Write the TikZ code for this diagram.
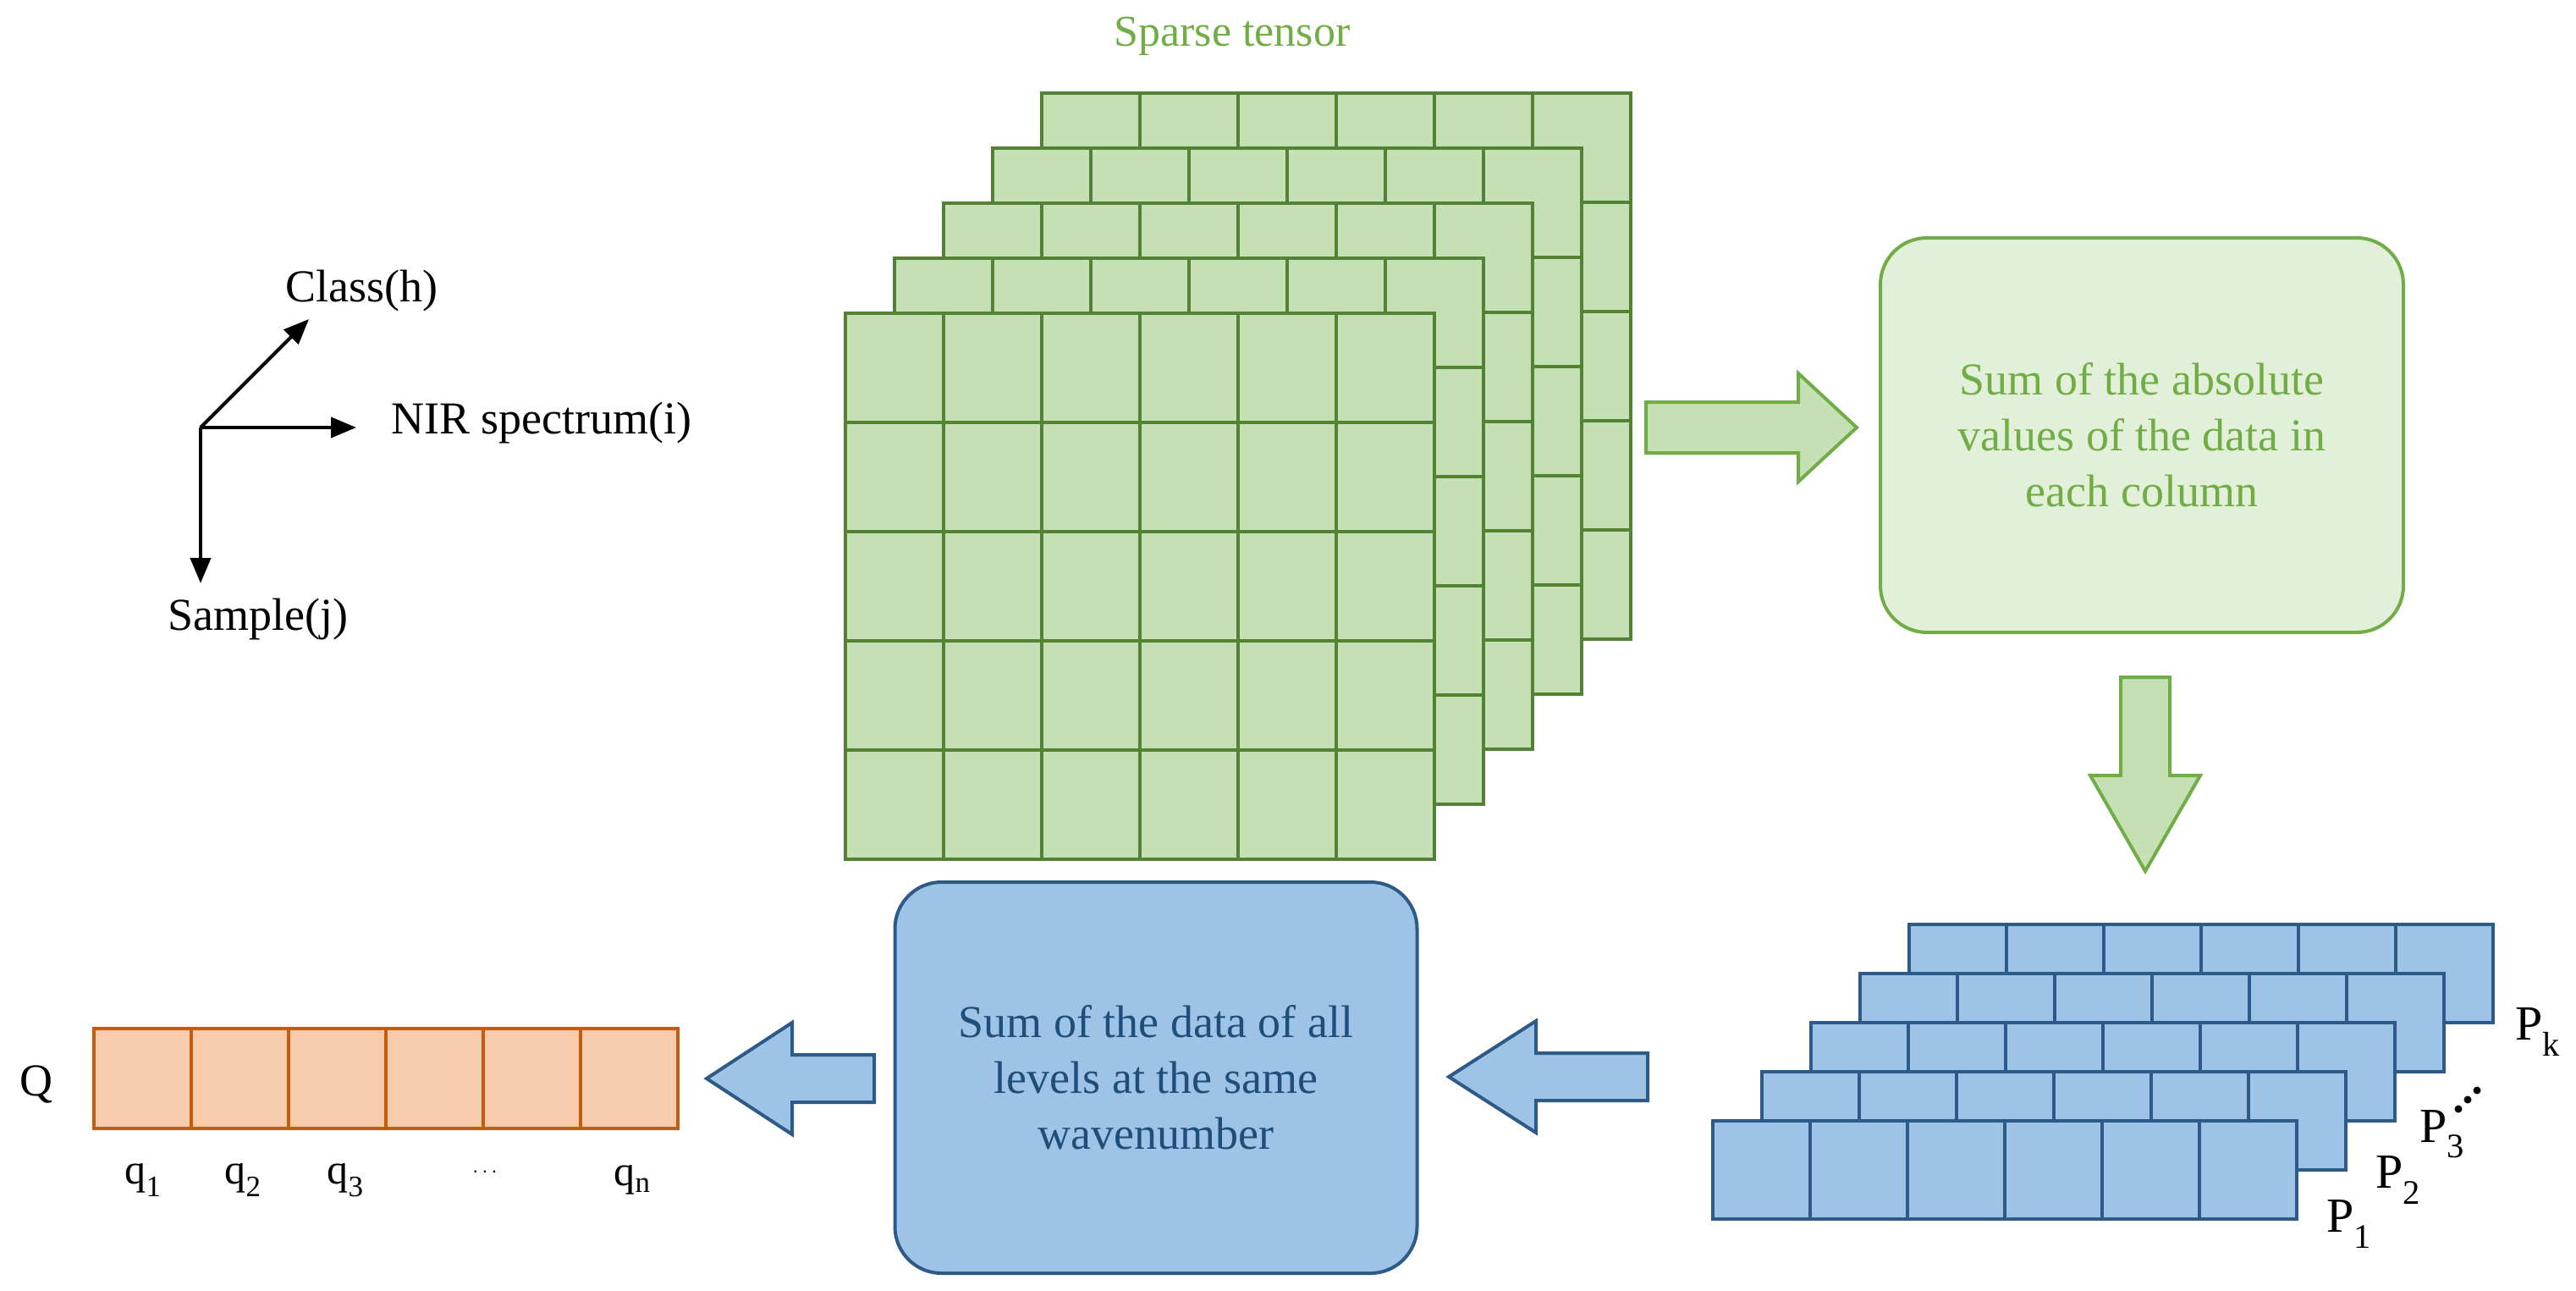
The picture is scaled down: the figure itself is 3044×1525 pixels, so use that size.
\documentclass[tikz,border=0pt]{standalone}
\usepackage{fontspec}
\setmainfont{Liberation Serif}
\usetikzlibrary{arrows.meta}
\definecolor{gfill}{HTML}{C5E0B4}
\definecolor{gline}{HTML}{548235}
\definecolor{gbox}{HTML}{E2F0D9}
\definecolor{gtext}{HTML}{70AD47}
\definecolor{bfill}{HTML}{9DC3E6}
\definecolor{bline}{HTML}{2E5A87}
\definecolor{btext}{HTML}{1F4E79}
\definecolor{ofill}{HTML}{F8CBAD}
\definecolor{oline}{HTML}{C55A11}
\begin{document}
\begin{tikzpicture}[x=1pt,y=-1pt,
  txt/.style={font=\fontsize{54}{66}\selectfont,inner sep=0pt},
  gcell/.style={fill=gfill,draw=gline,line width=4},
  bcell/.style={fill=bfill,draw=bline,line width=4},
  ocell/.style={fill=ofill,draw=oline,line width=3.5},
  ax/.style={line width=4,-{Triangle[length=30,width=24]}},
  barrowg/.style={fill=gfill,draw=gtext,line width=4,line join=miter},
  barrowb/.style={fill=bfill,draw=bline,line width=4,line join=miter},
  rbox/.style={rounded corners=55,line width=4}]
\useasboundingbox (0,0) rectangle (3044,1525);
% axes
\coordinate (o) at (237,505);
\coordinate (ac) at (365,377);
\coordinate (an) at (421,505);
\coordinate (as) at (237,689);
\draw[ax] (o) -- (ac);
\draw[ax] (o) -- (an);
\draw[ax] (o) -- (as);
\node[txt] (lc) at (427,344) {Class(h)};
\node[txt,anchor=west] (ln) at (462,500) {NIR spectrum(i)};
\node[txt] (ls) at (305,732) {Sample(j)};
% green tensor
\foreach \l in {4,3,2,1,0}{
  \begin{scope}[shift={(58*\l,-65*\l)}]
    \foreach \c in {0,...,5}\foreach \r in {0,...,4}
      \draw[gcell] (999+116*\c,370+129*\r) rectangle ++(116,129);
  \end{scope}}
\node[txt,text=gtext,font=\fontsize{52}{60}\selectfont] (st) at (1456,43) {Sparse tensor};
% arrow right
\draw[barrowg] (1945,475) -- (2125,475) -- (2125,441) -- (2194,505) -- (2125,569) -- (2125,535) -- (1945,535) -- cycle;
% green box
\node[rbox,fill=gbox,draw=gtext,minimum width=618,minimum height=466,txt,text=gtext,align=center] (gb) at (2531,514)
 {Sum of the absolute\\values of the data in\\each column};
% down arrow
\draw[barrowg] (2506,800) -- (2564,800) -- (2564,916) -- (2600,916) -- (2535,1029) -- (2470,916) -- (2506,916) -- cycle;
% blue layers
\foreach \l in {4,3,2,1,0}{
  \begin{scope}[shift={(58*\l,-58*\l)}]
    \foreach \c in {0,...,5}
      \draw[bcell] (2024+115*\c,1324) rectangle ++(115,116);
  \end{scope}}
\begin{scope}[font=\fontsize{58}{60}\selectfont]
\node[inner sep=0pt] (p1) at (2776,1446) {P\textsubscript{1}};
\node[inner sep=0pt] (p2) at (2834,1394) {P\textsubscript{2}};
\node[inner sep=0pt] (p3) at (2886,1340) {P\textsubscript{3}};
\node[inner sep=0pt] (pk) at (2999,1219) {P\textsubscript{k}};
\end{scope}
\foreach \i in {0,1,2} \fill (2905+11*\i,1310-11*\i) circle (4.5);
% left arrow 1
\draw[barrowb] (1947,1244) -- (1815,1244) -- (1815,1206) -- (1712,1272) -- (1815,1338) -- (1815,1300) -- (1947,1300) -- cycle;
% blue box
\node[rbox,fill=bfill,draw=bline,minimum width=617,minimum height=462,txt,text=btext,align=center] (bb) at (1366,1273)
 {Sum of the data of all\\levels at the same\\wavenumber};
% left arrow 2
\draw[barrowb] (1033,1246) -- (936,1246) -- (936,1208) -- (835,1274) -- (936,1340) -- (936,1302) -- (1033,1302) -- cycle;
% orange strip
\foreach \c in {0,...,5} \draw[ocell] (111+115*\c,1215) rectangle ++(115,118);
\node[txt] (Q) at (43,1281) {Q};
\begin{scope}[font=\fontsize{50}{60}\selectfont]
\node[inner sep=0pt] (q1) at (169,1394) {q\textsubscript{1}};
\node[inner sep=0pt] (q2) at (287,1394) {q\textsubscript{2}};
\node[inner sep=0pt] (q3) at (408,1394) {q\textsubscript{3}};
\node[inner sep=0pt] (qd) at (573,1385) {\textbf{$\cdots$}};
\node[inner sep=0pt] (qn) at (747,1394) {q\textsubscript{n}};
\end{scope}
\end{tikzpicture}
\end{document}
